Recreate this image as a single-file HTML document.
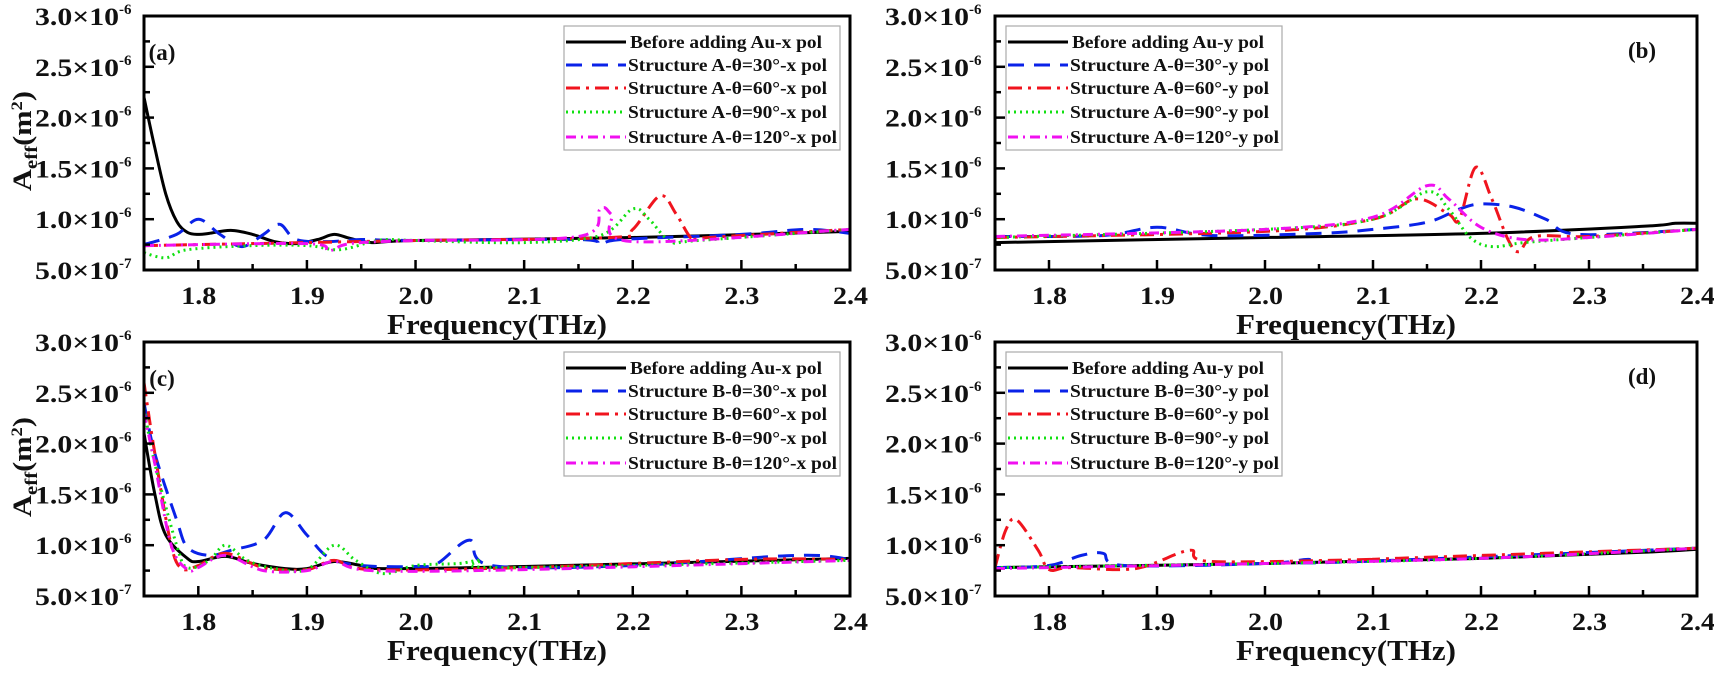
<!DOCTYPE html>
<html><head><meta charset="utf-8"><style>
html,body{margin:0;padding:0;background:#fff}
svg text{font-family:"Liberation Serif",serif;font-weight:bold;fill:#111}
</style></head><body>
<svg id="s" width="1714" height="674" xmlns="http://www.w3.org/2000/svg"></svg>
<script>
const S=document.getElementById('s');let h='';
const panels=[
 {x0:144,x1:850,y0:16,y1:270,lab:'(a)',lx:162,ly:60,leg:[564,26],p:'A',pol:'x',yt:true},
 {x0:995,x1:1697,y0:16,y1:270,lab:'(b)',lx:1642,ly:58,leg:[1006,26],p:'A',pol:'y',yt:false},
 {x0:144,x1:850,y0:342,y1:596,lab:'(c)',lx:162,ly:386,leg:[564,352],p:'B',pol:'x',yt:true},
 {x0:995,x1:1697,y0:342,y1:596,lab:'(d)',lx:1642,ly:384,leg:[1006,352],p:'B',pol:'y',yt:false}];
const st=[{c:'#000',d:''},{c:'#0a22e8',d:'16,10'},{c:'#f0141e',d:'14,6,3,6'},{c:'#10e010',d:'2,4'},{c:'#f010f0',d:'10,5,2,5'}];
const data=[
[[[1.75,2.2],[1.76,1.7],[1.77,1.25],[1.78,0.98],[1.79,0.87],[1.80,0.85],[1.81,0.86],[1.83,0.89],[1.85,0.85],[1.87,0.78],[1.89,0.76],[1.91,0.80],[1.925,0.85],[1.94,0.81],[1.96,0.77],[2.0,0.79],[2.2,0.82],[2.4,0.88]],
 [[1.75,0.75],[1.78,0.85],[1.80,1.0],[1.82,0.85],[1.84,0.73],[1.86,0.85],[1.875,0.95],[1.89,0.8],[1.92,0.78],[1.95,0.8],[2.0,0.79],[2.15,0.8],[2.17,0.75],[2.19,0.8],[2.3,0.85],[2.36,0.9],[2.4,0.86]],
 [[1.75,0.74],[1.9,0.77],[2.0,0.79],[2.18,0.82],[2.2,0.9],[2.225,1.23],[2.24,1.05],[2.255,0.8],[2.27,0.82],[2.4,0.9]],
 [[1.75,0.67],[1.77,0.62],[1.79,0.7],[1.85,0.74],[1.9,0.74],[1.93,0.7],[1.96,0.78],[1.975,0.8],[2.0,0.79],[2.1,0.77],[2.17,0.84],[2.2,1.1],[2.215,1.0],[2.235,0.78],[2.26,0.79],[2.4,0.9]],
 [[1.75,0.74],[1.9,0.76],[1.92,0.69],[1.94,0.76],[2.0,0.79],[2.15,0.83],[2.17,1.1],[2.18,1.05],[2.2,0.78],[2.4,0.9]]],
[[[1.75,0.77],[2.0,0.82],[2.2,0.86],[2.35,0.93],[2.38,0.96],[2.4,0.96]],
 [[1.75,0.83],[1.85,0.84],[1.9,0.92],[1.95,0.84],[2.05,0.86],[2.1,0.9],[2.15,0.97],[2.18,1.1],[2.2,1.15],[2.23,1.12],[2.26,1.0],[2.29,0.85],[2.4,0.9]],
 [[1.75,0.82],[2.0,0.88],[2.1,1.0],[2.14,1.2],[2.17,1.05],[2.18,1.0],[2.195,1.51],[2.21,1.2],[2.225,0.8],[2.235,0.68],[2.25,0.83],[2.3,0.83],[2.4,0.9]],
 [[1.75,0.82],[2.0,0.9],[2.1,1.0],[2.15,1.27],[2.17,1.1],[2.19,0.82],[2.21,0.73],[2.24,0.77],[2.3,0.82],[2.4,0.9]],
 [[1.75,0.83],[2.0,0.9],[2.1,1.02],[2.15,1.33],[2.17,1.2],[2.2,0.92],[2.24,0.8],[2.3,0.82],[2.4,0.9]]],
[[[1.75,2.1],[1.76,1.5],[1.77,1.1],[1.79,0.87],[1.8,0.84],[1.825,0.89],[1.85,0.82],[1.88,0.77],[1.9,0.77],[1.925,0.84],[1.95,0.8],[1.97,0.77],[2.1,0.79],[2.4,0.87]],
 [[1.75,2.4],[1.76,1.9],[1.78,1.25],[1.79,0.98],[1.81,0.9],[1.83,0.95],[1.86,1.05],[1.88,1.32],[1.9,1.1],[1.92,0.88],[1.95,0.8],[2.0,0.79],[2.02,0.82],[2.05,1.05],[2.07,0.8],[2.2,0.8],[2.35,0.9],[2.4,0.86]],
 [[1.75,2.6],[1.76,1.9],[1.775,1.0],[1.785,0.77],[1.8,0.8],[1.825,0.92],[1.86,0.78],[1.9,0.76],[1.925,0.85],[1.96,0.76],[2.1,0.78],[2.3,0.86],[2.4,0.86]],
 [[1.75,2.35],[1.76,1.8],[1.78,1.0],[1.79,0.78],[1.81,0.85],[1.825,1.0],[1.845,0.85],[1.87,0.77],[1.9,0.76],[1.925,1.0],[1.945,0.85],[1.97,0.72],[2.0,0.8],[2.04,0.82],[2.06,0.85],[2.08,0.78],[2.4,0.85]],
 [[1.75,2.3],[1.76,1.8],[1.775,1.0],[1.79,0.76],[1.8,0.78],[1.825,0.9],[1.86,0.75],[1.9,0.75],[1.925,0.84],[1.96,0.75],[2.1,0.76],[2.4,0.85]]],
[[[1.75,0.78],[2.0,0.82],[2.2,0.87],[2.35,0.93],[2.4,0.96]],
 [[1.75,0.78],[1.8,0.8],[1.83,0.9],[1.85,0.92],[1.87,0.8],[2.0,0.82],[2.04,0.86],[2.06,0.83],[2.4,0.97]],
 [[1.75,0.78],[1.76,1.15],[1.77,1.25],[1.79,0.95],[1.80,0.76],[1.82,0.78],[1.88,0.77],[1.93,0.95],[1.95,0.84],[2.1,0.86],[2.12,0.87],[2.4,0.97]],
 [[1.75,0.78],[2.0,0.82],[2.2,0.87],[2.4,0.97]],
 [[1.75,0.77],[2.0,0.82],[2.2,0.87],[2.4,0.97]]]];
function path(pts){let d='M'+pts[0][0].toFixed(1)+','+pts[0][1].toFixed(1);
 for(let i=0;i<pts.length-1;i++){const p0=pts[Math.max(0,i-1)],p1=pts[i],p2=pts[i+1],p3=pts[Math.min(pts.length-1,i+2)];
 const c1=[p1[0]+(p2[0]-p0[0])/6,p1[1]+(p2[1]-p0[1])/6],c2=[p2[0]-(p3[0]-p1[0])/6,p2[1]-(p3[1]-p1[1])/6];
 d+=' C'+c1.map(v=>v.toFixed(1))+' '+c2.map(v=>v.toFixed(1))+' '+p2.map(v=>v.toFixed(1));}return d;}
panels.forEach((P,k)=>{
 const W=P.x1-P.x0,H=P.y1-P.y0;
 const fx=f=>P.x0+(f-1.75)/0.65*W, fy=v=>P.y0+(3.0-v)/2.5*H;
 h+=`<clipPath id="c${k}"><rect x="${P.x0}" y="${P.y0}" width="${W}" height="${H}"/></clipPath>`;
 data[k].forEach((ser,i)=>{const pts=ser.map(p=>[fx(p[0]),fy(p[1])]);
  h+=`<path d="${path(pts)}" fill="none" stroke="${st[i].c}" stroke-width="3" ${st[i].d?`stroke-dasharray="${st[i].d}"`:''} clip-path="url(#c${k})"/>`;});
 h+=`<rect x="${P.x0}" y="${P.y0}" width="${W}" height="${H}" fill="none" stroke="#000" stroke-width="3"/>`;
 for(let f=1.8;f<2.401;f+=0.05){const x=fx(f),maj=Math.abs(Math.round(f*10)-f*10)<0.01;
  h+=`<line x1="${x}" x2="${x}" y1="${P.y1}" y2="${P.y1-(maj?10:6)}" stroke="#000" stroke-width="2.5"/>`;
  if(maj)h+=`<text x="${x-17}" y="${P.y1+34}" font-size="25" textLength="35" lengthAdjust="spacingAndGlyphs">${f.toFixed(1)}</text>`;}
 for(let v=0.75;v<3.0;v+=0.25){const y=fy(v),maj=Math.abs(v*2-Math.round(v*2))<0.01;
  h+=`<line x1="${P.x0}" x2="${P.x0+(maj?10:6)}" y1="${y}" y2="${y}" stroke="#000" stroke-width="2.5"/>`;}
 const lx=P.yt?133:P.x0-12;
 [[3.0,'3.0×10','-6'],[2.5,'2.5×10','-6'],[2.0,'2.0×10','-6'],[1.5,'1.5×10','-6'],[1.0,'1.0×10','-6'],[0.5,'5.0×10','-7']].forEach(t=>{
  const y=fy(t[0]);h+=`<text x="${lx-98}" y="${y+9}" font-size="25" textLength="84" lengthAdjust="spacingAndGlyphs">${t[1]}</text><text x="${lx-14}" y="${y-2}" font-size="15">${t[2]}</text>`;});
 h+=`<text x="${(P.x0+P.x1)/2-110}" y="${P.y1+64}" font-size="28" textLength="220" lengthAdjust="spacingAndGlyphs">Frequency(THz)</text>`;
 if(P.yt){const cy=(P.y0+P.y1)/2-2;h+=`<text transform="translate(31,${cy+50}) rotate(-90)" font-size="26" textLength="100" lengthAdjust="spacingAndGlyphs">A<tspan font-size="18" dy="6">eff</tspan><tspan dy="-6">(m</tspan><tspan font-size="16" dy="-9">2</tspan><tspan dy="9">)</tspan></text>`;}
 h+=`<text x="${P.lx}" y="${P.ly}" font-size="23" text-anchor="middle">${P.lab}</text>`;
 const [gx,gy]=P.leg;h+=`<rect x="${gx}" y="${gy}" width="276" height="124" fill="#fff" stroke="#aaa" stroke-width="1.2"/>`;
 const names=['Before adding Au-'+P.pol+' pol'].concat([30,60,90,120].map(a=>`Structure ${P.p}-θ=${a}°-${P.pol} pol`));
 const lens=[192,199,199,199,209];
 [16,39,62,86,111].forEach((dy,i)=>{h+=`<line x1="${gx+2}" x2="${gx+62}" y1="${gy+dy}" y2="${gy+dy}" stroke="${st[i].c}" stroke-width="3" ${st[i].d?`stroke-dasharray="${st[i].d}"`:''}/>`;
  h+=`<text x="${gx+(i==0?66:64)}" y="${gy+dy+6}" font-size="18" textLength="${lens[i]}" lengthAdjust="spacingAndGlyphs">${names[i]}</text>`;});
});
S.innerHTML=h;
</script>
</body></html>
